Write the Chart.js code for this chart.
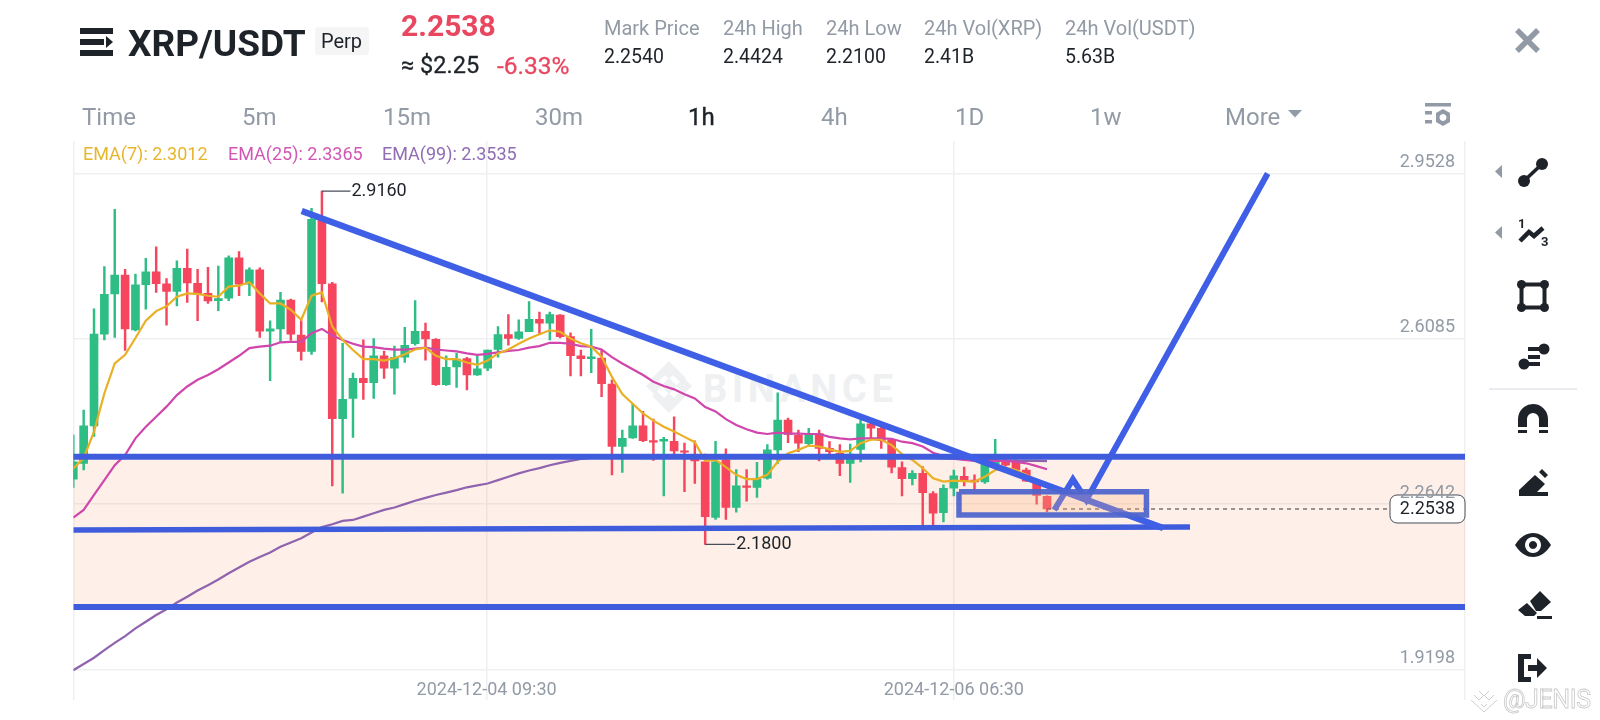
<!DOCTYPE html>
<html><head><meta charset="utf-8"><title>XRP/USDT</title>
<script src="https://cdn.jsdelivr.net/npm/chart.js@4"></script>
<style>
html,body{margin:0;padding:0;background:#fff;width:1600px;height:720px;overflow:hidden;font-family:Roboto,sans-serif}
.t{position:absolute;white-space:nowrap;line-height:1;transform:translateY(-50%)}
canvas{position:absolute;left:0;top:0}
svg{position:absolute;left:0;top:0}
.g{color:#929AA5}.d{color:#1E2329}.r{color:#E8475F}
.lab{font-size:20px}.val{font-size:19.5px}.tab{font-size:24px}
</style></head><body>
<svg width="1600" height="720" style="z-index:0">
 <g fill="#EEF0F1">
  <path d="M669 364l8 8-8 8-8-8zM654 379l8 8-8 8-8-8zM684 379l8 8-8 8-8-8zM669 379l8 8-8 8-8-8zM669 394l8 8-8 8-8-8z" transform="translate(0,-1)"/>
  <path d="M669 361l17 17-5 5-12-12-12 12-5-5zM669 413l17-17-5-5-12 12-12-12-5 5z"/>
  <text x="703" y="402" font-family="Roboto" font-weight="700" font-size="38" textLength="190">BINANCE</text>
 </g>
</svg>
<canvas id="c" width="1600" height="720" style="z-index:1"></canvas>
<svg width="1600" height="720" style="z-index:2" fill="#1E2329">
 <!-- logo -->
 <rect x="80" y="28" width="33" height="6"/><rect x="80" y="39" width="24" height="6"/><rect x="80" y="50" width="33" height="6"/><path d="M106 36l7 6-7 6z"/>
 <!-- settings -->
 <g fill="#929AA5"><rect x="1425" y="103" width="26" height="3.500"/><rect x="1425" y="111" width="7" height="3.500"/><rect x="1425" y="120" width="7" height="3.500"/>
  <path fill-rule="evenodd" d="M1443 109l7 4v9l-7 4-7-4v-9zM1443 114a3.5 3.5 0 1 0 .01 0z"/>
 </g>
 <!-- caret, close -->
 <path d="M1288 110h14l-7 7.500z" fill="#929AA5"/>
 <path d="M1517 30l21 21M1538 30l-21 21" stroke="#929AA5" stroke-width="5.500" fill="none"/>
 <!-- toolbar arrows -->
 <path d="M1502 165v13l-7-6.500zM1502 226v13l-7-6.500z" fill="#929AA5"/>
 <!-- line tool -->
 <circle cx="1542" cy="164" r="6"/><circle cx="1524" cy="181" r="6"/><path d="M1524 181l18-17" stroke="#1E2329" stroke-width="3.500"/>
 <!-- fib -->
 <text x="1518" y="228" font-size="13" font-weight="700" font-family="Roboto">1</text><text x="1541" y="246" font-size="13" font-weight="700" font-family="Roboto">3</text>
 <path d="M1520 241l9-9 5 4 9-8" stroke="#1E2329" stroke-width="4.500" fill="none"/>
 <!-- square -->
 <rect x="1521.500" y="284.500" width="23" height="23" fill="none" stroke="#1E2329" stroke-width="4"/>
 <circle cx="1521.500" cy="284.500" r="4.500"/><circle cx="1544.500" cy="284.500" r="4.500"/><circle cx="1521.500" cy="307.500" r="4.500"/><circle cx="1544.500" cy="307.500" r="4.500"/>
 <!-- lines -->
 <circle cx="1544" cy="349" r="5.500"/><circle cx="1524" cy="364" r="5.500"/><rect x="1528" y="347" width="14" height="4"/><rect x="1528" y="355" width="12" height="4"/><rect x="1528" y="362" width="12" height="4"/>
 <!-- magnet -->
 <path d="M1518 427v-8a15 15 0 0 1 30 0v8h-9v-8a6 6 0 0 0-12 0v8zM1518 430h9v3h-9zM1539 430h9v3h-9z"/>
 <!-- pencil -->
 <path d="M1519 496v-6l16-15 10 9-12 12zM1539 472l3-3 6 6-3 3zM1533 492h15v4h-15z"/>
 <!-- eye -->
 <path fill-rule="evenodd" d="M1515 545c5-8 11-12 18-12s13 4 18 12c-5 8-11 12-18 12s-13-4-18-12zM1533 537a8 8 0 1 0 .01 0zM1533 541a4 4 0 1 1-.01 0z"/>
 <!-- eraser -->
 <path d="M1530 602l10-10 11 11-10 9h-5zM1518 611l9-7 10 10-3 3h-9zM1537 617h15v3h-15z" transform="translate(0,-1)"/>
 <!-- exit -->
 <path d="M1518 654h13v5h-7v18h7v5h-13zM1528 665h9v-7l10 10-10 10v-7h-9z"/>
 <!-- toolbar divider -->
 <rect x="1489" y="388" width="88" height="2" fill="#EAECEF"/>
 <!-- perp badge -->
 <rect x="315" y="27" width="54" height="28" rx="4" fill="#F5F5F5"/>
 <!-- author mark -->
 <g fill="none" stroke="#CFCFCF" stroke-width="1"><path d="M1474 695l5 5 5-5 5 5 5-5M1479 691l5 5 5-5M1481 704l3 3 3-3M1471 700l13 12 13-12"/></g>
 <text x="1503" y="708" font-family="Roboto" font-size="25" fill="#fff" stroke="#C9C9C9" stroke-width="0.800" textLength="88">@JENIS</text>
</svg>
<div style="position:absolute;z-index:3;left:0;top:0;width:1600px;height:720px">
 <div class="t d" style="left:128px;top:43px;font-size:37px;font-weight:700">XRP/USDT</div>
 <div class="t d" style="left:321px;top:41px;font-size:20px">Perp</div>
 <div class="t r" style="left:401px;top:26px;font-size:30px;font-weight:700">2.2538</div>
 <div class="t d" style="left:401px;top:66px;font-size:23.500px;-webkit-text-stroke:0.3px #1E2329">≈ $2.25</div>
 <div class="t r" style="left:497px;top:66px;font-size:24.500px;-webkit-text-stroke:0.3px #E8475F">-6.33%</div>
 <div class="t g lab" style="left:604px;top:28px">Mark Price</div><div class="t d val" style="left:604px;top:57px">2.2540</div>
 <div class="t g lab" style="left:723px;top:28px">24h High</div><div class="t d val" style="left:723px;top:57px">2.4424</div>
 <div class="t g lab" style="left:826px;top:28px">24h Low</div><div class="t d val" style="left:826px;top:57px">2.2100</div>
 <div class="t g lab" style="left:924px;top:28px">24h Vol(XRP)</div><div class="t d val" style="left:924px;top:57px">2.41B</div>
 <div class="t g lab" style="left:1065px;top:28px">24h Vol(USDT)</div><div class="t d val" style="left:1065px;top:57px">5.63B</div>
 <div class="t g tab" style="left:82px;top:117px">Time</div>
 <div class="t g tab" style="left:242px;top:117px">5m</div>
 <div class="t g tab" style="left:383px;top:117px">15m</div>
 <div class="t g tab" style="left:535px;top:117px">30m</div>
 <div class="t d tab" style="left:688px;top:117px;-webkit-text-stroke:0.4px #1E2329">1h</div>
 <div class="t g tab" style="left:821px;top:117px">4h</div>
 <div class="t g tab" style="left:955px;top:117px">1D</div>
 <div class="t g tab" style="left:1090px;top:117px">1w</div>
 <div class="t g tab" style="left:1225px;top:117px">More</div>
 <div class="t" style="left:83px;top:154px;font-size:18px;color:#E7B52E">EMA(7): 2.3012</div>
 <div class="t" style="left:228px;top:154px;font-size:18px;color:#D257B4">EMA(25): 2.3365</div>
 <div class="t" style="left:382px;top:154px;font-size:18px;color:#8F6CB3">EMA(99): 2.3535</div>
</div>
<script>
// Candles
const opens=[2.316,2.349,2.427,2.618,2.702,2.741,2.627,2.721,2.748,2.723,2.707,2.755,2.724,2.703,2.688,2.693,2.777,2.722,2.752,2.624,
2.629,2.689,2.616,2.582,2.857,2.723,2.442,2.484,2.526,2.517,2.573,2.547,2.570,2.598,2.624,2.607,2.513,2.550,2.567,2.533,
2.547,2.586,2.617,2.609,2.623,2.649,2.641,2.658,2.613,2.573,2.567,2.568,2.514,2.384,2.402,2.427,2.396,2.395,2.395,2.375,
2.356,2.352,2.236,2.356,2.257,2.302,2.299,2.318,2.377,2.439,2.407,2.390,2.411,2.380,2.370,2.349,2.378,2.431,2.422,2.398,
2.340,2.317,2.328,2.286,2.246,2.297,2.322,2.314,2.310,2.347,2.354,2.354,2.335,2.311,2.280];
const highs=[2.408,2.460,2.671,2.759,2.878,2.753,2.743,2.776,2.800,2.734,2.771,2.795,2.753,2.757,2.760,2.781,2.790,2.756,2.756,2.646,
2.705,2.691,2.648,2.880,2.916,2.726,2.599,2.537,2.606,2.609,2.583,2.593,2.632,2.688,2.641,2.609,2.573,2.578,2.570,2.573,
2.585,2.634,2.659,2.648,2.686,2.664,2.664,2.659,2.621,2.585,2.628,2.586,2.523,2.418,2.474,2.457,2.441,2.403,2.446,2.391,
2.396,2.368,2.395,2.379,2.336,2.336,2.351,2.388,2.496,2.443,2.418,2.422,2.418,2.394,2.388,2.389,2.441,2.436,2.425,2.401,
2.352,2.334,2.342,2.290,2.304,2.335,2.341,2.325,2.356,2.399,2.359,2.357,2.339,2.314,2.281];
const lows=[2.299,2.335,2.405,2.606,2.611,2.584,2.625,2.670,2.705,2.637,2.677,2.684,2.646,2.682,2.667,2.688,2.698,2.698,2.611,2.521,
2.602,2.605,2.564,2.576,2.685,2.302,2.287,2.403,2.482,2.484,2.526,2.493,2.559,2.595,2.564,2.511,2.511,2.507,2.502,2.532,
2.542,2.570,2.595,2.607,2.623,2.617,2.606,2.610,2.531,2.531,2.538,2.488,2.325,2.330,2.401,2.394,2.355,2.281,2.363,2.290,
2.307,2.180,2.232,2.232,2.247,2.270,2.278,2.316,2.349,2.392,2.373,2.385,2.354,2.368,2.323,2.309,2.352,2.398,2.380,2.329,
2.281,2.304,2.217,2.217,2.227,2.281,2.302,2.295,2.307,2.345,2.343,2.332,2.311,2.264,2.248];
const closes=[2.352,2.427,2.618,2.701,2.741,2.629,2.721,2.748,2.723,2.707,2.755,2.725,2.702,2.687,2.692,2.777,2.722,2.752,2.624,2.629,
2.689,2.618,2.582,2.857,2.723,2.442,2.482,2.526,2.517,2.573,2.547,2.570,2.595,2.624,2.608,2.513,2.549,2.566,2.533,2.546,
2.585,2.617,2.609,2.623,2.649,2.641,2.659,2.613,2.573,2.567,2.571,2.515,2.384,2.401,2.427,2.396,2.393,2.399,2.375,2.372,
2.354,2.238,2.352,2.257,2.302,2.299,2.316,2.377,2.439,2.409,2.391,2.409,2.380,2.373,2.349,2.368,2.431,2.422,2.396,2.341,
2.317,2.328,2.288,2.245,2.297,2.323,2.313,2.310,2.347,2.357,2.345,2.335,2.312,2.282,2.2538];
const ema7=[2.338,2.360,2.415,2.495,2.557,2.575,2.610,2.646,2.666,2.676,2.696,2.703,2.702,2.698,2.696,2.717,2.719,2.726,2.703,2.682,
2.682,2.669,2.648,2.698,2.705,2.634,2.606,2.585,2.566,2.566,2.563,2.568,2.576,2.586,2.590,2.573,2.566,2.566,2.559,2.554,
2.563,2.578,2.586,2.598,2.609,2.618,2.626,2.623,2.609,2.599,2.592,2.571,2.529,2.493,2.473,2.453,2.438,2.425,2.415,2.404,
2.393,2.354,2.356,2.341,2.325,2.316,2.316,2.325,2.352,2.370,2.377,2.386,2.384,2.378,2.373,2.375,2.391,2.398,2.398,2.387,
2.368,2.356,2.339,2.318,2.311,2.313,2.312,2.311,2.321,2.335,2.340,2.335,2.325,2.313,2.3012];
const ema25=[2.236,2.252,2.283,2.314,2.345,2.366,2.401,2.425,2.446,2.467,2.491,2.509,2.523,2.533,2.545,2.559,2.573,2.589,2.592,2.594,
2.601,2.602,2.602,2.620,2.629,2.615,2.606,2.598,2.592,2.591,2.588,2.586,2.586,2.588,2.590,2.586,2.584,2.582,2.578,2.575,
2.577,2.580,2.583,2.585,2.590,2.593,2.600,2.600,2.598,2.593,2.592,2.586,2.570,2.557,2.545,2.533,2.519,2.510,2.503,2.493,
2.484,2.466,2.457,2.441,2.429,2.420,2.413,2.410,2.413,2.411,2.411,2.410,2.410,2.404,2.401,2.399,2.401,2.401,2.401,2.400,
2.394,2.391,2.384,2.371,2.364,2.359,2.356,2.354,2.354,2.354,2.354,2.352,2.349,2.343,2.3365];
const ema99=[1.918,1.931,1.944,1.960,1.975,1.989,2.005,2.019,2.033,2.045,2.059,2.071,2.084,2.095,2.107,2.120,2.132,2.144,2.154,2.163,
2.175,2.184,2.193,2.205,2.216,2.222,2.229,2.231,2.238,2.245,2.252,2.257,2.264,2.271,2.277,2.283,2.288,2.293,2.299,2.303,
2.307,2.314,2.321,2.328,2.334,2.339,2.345,2.350,2.354,2.358,2.360,2.362,2.364,2.365,2.365,2.365,2.365,2.365,2.365,2.365,
2.365,2.365,2.365,2.365,2.365,2.365,2.365,2.365,2.365,2.365,2.365,2.365,2.365,2.365,2.365,2.365,2.365,2.365,2.365,2.364,
2.363,2.362,2.361,2.360,2.359,2.358,2.357,2.356,2.356,2.355,2.355,2.354,2.354,2.354,2.3535];

// Axis ticks
const priceTicks=[1.9198,2.2642,2.6085,2.9528];
const timeTickPositions=[39.9,85];
const timeTickLabels=['2024-12-04 09:30','2024-12-06 06:30'];
const xMin=0,xMax=134.35,yMin=1.9059,yMax=3.0204;

// User drawings, in chart coordinates (candle index, price)
const resistanceLevel=2.3627, supportLevel=2.0496;
const trendLine=[[22.05,2.8746],[105.2,2.2142]];
const floorLine=[[0,2.2100],[107.8,2.2163]];
const forecastPath=[[94.7,2.2517],[96.5,2.3157],[97.8,2.2725],[115.3,2.9528]];
const zoneBox=[[85.5,2.2898],[103.6,2.2898],[103.6,2.2413],[85.5,2.2413],[85.5,2.2898]];
const lastPrice=2.2538;
const highMark={i:24,price:2.9160,endI:26.75,text:'2.9160'};
const lowMark={i:61,price:2.1800,endI:63.9,text:'2.1800'};

const GREEN='#2EBD85',RED='#F6465D',BLUE='#3E5FE6';
const idx=opens.map((_,i)=>i);
const colors=idx.map(i=>closes[i]>=opens[i]?GREEN:RED);
const pts=a=>a.map(p=>({x:p[0],y:p[1]}));
const lineDs=(data,color,width,order,extra)=>Object.assign({type:'line',data,borderColor:color,borderWidth:width,pointRadius:0,tension:0,fill:false,order},extra||{});

const pricePill={id:'pricePill',afterDatasetsDraw(ch){
  const {ctx,scales:{x,y},chartArea:a}=ch;
  ctx.save();
  ctx.fillStyle='#1E2329';ctx.font='18px Roboto';ctx.textBaseline='middle';ctx.textAlign='left';
  [highMark,lowMark].forEach(m=>ctx.fillText(m.text,x.getPixelForValue(m.endI)+1,y.getPixelForValue(m.price)));
  const py=y.getPixelForValue(lastPrice);
  ctx.beginPath();ctx.roundRect(a.right-75,py-14,75,28,7);
  ctx.fillStyle='#fff';ctx.fill();ctx.strokeStyle='#474D57';ctx.lineWidth=1;ctx.stroke();
  ctx.fillStyle='#1E2329';ctx.textAlign='center';
  ctx.fillText(lastPrice.toFixed(4),a.right-37.5,py+0.5);
  ctx.restore();
}};

new Chart(document.getElementById('c'),{
  type:'bar',
  data:{datasets:[
    lineDs(pts([[xMin,resistanceLevel],[xMax,resistanceLevel],[xMax,supportLevel],[xMin,supportLevel],[xMin,resistanceLevel]]),'rgba(0,0,0,0)',0,20,{fill:'shape',backgroundColor:'rgba(247,150,90,0.14)'}),
    {type:'bar',data:idx.map(i=>({x:i,y:[lows[i],highs[i]]})),backgroundColor:colors,barThickness:1.8,grouped:false,order:12,borderSkipped:false},
    {type:'bar',data:idx.map(i=>({x:i,y:[opens[i],closes[i]]})),backgroundColor:colors,barThickness:8,grouped:false,order:11,borderSkipped:false,minBarLength:1.5},
    lineDs(ema99.map((v,i)=>({x:i,y:v})),'#8F63AE',2.2,10),
    lineDs(ema25.map((v,i)=>({x:i,y:v})),'#D046AC',2.2,9),
    lineDs(ema7.map((v,i)=>({x:i,y:v})),'#E9B026',2.2,8),
    lineDs([{x:94,y:lastPrice},{x:xMax,y:lastPrice}],'#30343A',1,7,{borderDash:[4,4]}),
    lineDs(pts([[highMark.i,highMark.price],[highMark.endI,highMark.price]]),'#474D57',1.2,6),
    lineDs(pts([[lowMark.i,lowMark.price],[lowMark.endI,lowMark.price]]),'#474D57',1.2,6),
    lineDs(pts([[xMin,resistanceLevel],[xMax,resistanceLevel]]),'#3F5CDD',6,5),
    lineDs(pts([[xMin,supportLevel],[xMax,supportLevel]]),'#3F5CDD',6,5),
    lineDs(pts(forecastPath),BLUE,6,5,{borderJoinStyle:'miter'}),
    lineDs(pts(floorLine),'#3F5CDD',5.5,4),
    lineDs(pts(trendLine),BLUE,6.5,3),
    lineDs(pts(zoneBox),'rgba(76,100,205,0.93)',5.5,2,{fill:'shape',backgroundColor:'rgba(250,180,130,0.28)',borderJoinStyle:'miter'})
  ]},
  plugins:[pricePill],
  options:{
    responsive:false,animation:false,devicePixelRatio:1,
    layout:{padding:{left:73.3,right:135,top:141,bottom:20}},
    plugins:{legend:{display:false},tooltip:{enabled:false}},
    scales:{
      x:{type:'linear',min:xMin,max:xMax,offset:false,
        afterBuildTicks(s){s.ticks=[xMin,...timeTickPositions,xMax].map(v=>({value:v}));},
        afterFit(s){s.height=24;},
        grid:{color:'#EEEFF1',lineWidth:1.5,tickLength:24,drawTicks:true,tickColor:'#EEEFF1',offset:false},
        border:{display:false},
        ticks:{padding:-20,maxRotation:0,autoSkip:false,color:'#929AA5',font:{family:'Roboto',size:18},
          callback(v){const k=timeTickPositions.indexOf(v);return k<0?'':timeTickLabels[k];}}},
      y:{type:'linear',position:'right',min:yMin,max:yMax,
        afterBuildTicks(s){s.ticks=priceTicks.map(v=>({value:v}));},
        afterFit(s){s.width=0;},
        grid:{color:'#EEEFF1',lineWidth:1.5,drawTicks:false},
        border:{display:false},
        ticks:{mirror:true,padding:-10,labelOffset:-11,z:1,color:'#929AA5',font:{family:'Roboto',size:18},callback:v=>v.toFixed(4)}}
    }
  }
});
</script>
</body></html>
